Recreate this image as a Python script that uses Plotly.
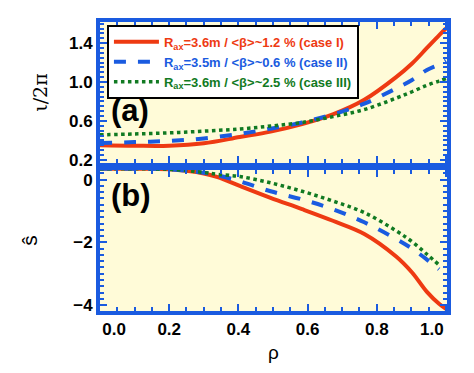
import plotly.graph_objects as go
from plotly.subplots import make_subplots

# ---------------- data ----------------
rho = [0.0, 0.1, 0.2, 0.3, 0.404, 0.493, 0.584, 0.673, 0.764, 0.856, 0.902, 0.945, 0.98, 1.0]

iota_case1 = [0.35, 0.345, 0.345, 0.37, 0.434, 0.49, 0.567, 0.667, 0.817, 1.05, 1.19, 1.35, 1.48, 1.55]
iota_case2 = [0.374, 0.382, 0.394, 0.42, 0.467, 0.52, 0.584, 0.667, 0.777, 0.934, 1.02, 1.124, 1.18, 1.22]
iota_case3 = [0.457, 0.466, 0.477, 0.495, 0.517, 0.547, 0.584, 0.644, 0.717, 0.834, 0.9, 0.967, 1.01, 1.036]

shat_rho = [0.0, 0.1, 0.2, 0.3, 0.34, 0.404, 0.493, 0.584, 0.673, 0.764, 0.856, 0.902, 0.945, 0.98, 1.0]
shat_case1 = [0.35, 0.35, 0.33, 0.2, 0.08, -0.2, -0.58, -0.94, -1.31, -1.73, -2.45, -2.96, -3.58, -3.96, -4.12]
shat_case2 = [0.35, 0.35, 0.33, 0.22, 0.14, -0.05, -0.37, -0.63, -0.94, -1.36, -1.89, -2.2, -2.55, -2.86, None]
shat_case3 = [0.35, 0.35, 0.33, 0.23, 0.17, 0.1, -0.1, -0.37, -0.68, -1.05, -1.63, -1.98, -2.38, -2.72, None]

names = [
    "R<sub>ax</sub>=3.6m / &lt;β&gt;~1.2 % (case I)",
    "R<sub>ax</sub>=3.5m / &lt;β&gt;~0.6 % (case II)",
    "R<sub>ax</sub>=3.6m / &lt;β&gt;~2.5 % (case III)",
]
colors = ["#EE3A12", "#1A5BE0", "#117A22"]
dashes = ["solid", "dash", "dot"]

x_ticks = [0.0, 0.2, 0.4, 0.6, 0.8, 1.0]
x_tick_text = ["\u2007\u2007\u20070.0", "0.2", "0.4", "0.6", "0.8", "1.0\u2007\u2007\u2007"]
iota_ticks = [0.2, 0.6, 1.0, 1.4]
shat_ticks = [0, -2, -4]

# ---------------- figure ----------------
fig = make_subplots(rows=2, cols=1, shared_xaxes=True, vertical_spacing=0.024)

iotas = [iota_case1, iota_case2, iota_case3]
shats = [shat_case1, shat_case2, shat_case3]
for i in range(3):
    fig.add_trace(go.Scatter(
        x=rho, y=iotas[i], mode="lines",
        name=f'<span style="color:{colors[i]}">{names[i]}</span>',
        line=dict(color=colors[i], width=4 if i < 2 else 3.5, dash=dashes[i], shape="spline"),
    ), row=1, col=1)
for i in range(3):
    fig.add_trace(go.Scatter(
        x=shat_rho, y=shats[i], mode="lines", showlegend=False,
        line=dict(color=colors[i], width=4 if i < 2 else 3.5, dash=dashes[i], shape="spline"),
    ), row=2, col=1)

blue = "#1A5BE0"
tickfont = dict(family="Liberation Sans, Arial, sans-serif", size=17, color="black", weight="bold")
common = dict(showline=True, linecolor=blue, linewidth=4, mirror="ticks",
              ticks="inside", tickcolor=blue, tickwidth=2, ticklen=7,
              showgrid=False, zeroline=False, tickfont=tickfont)

fig.update_xaxes(range=[0, 1.003], tickvals=x_ticks, ticktext=x_tick_text, ticklabeloverflow="allow",
                 minor=dict(dtick=0.05, tick0=0, ticks="inside", ticklen=4, tickcolor=blue, tickwidth=1.5, showgrid=False),
                 **common)
fig.update_xaxes(showticklabels=False, row=1, col=1)
fig.update_xaxes(title=dict(text="ρ", font=dict(family="Liberation Sans, Arial", size=19, color="black"), standoff=8),
                 row=2, col=1)

fig.update_yaxes(range=[0.167, 1.617], tickvals=iota_ticks, tickformat=".1f",
                 minor=dict(dtick=0.05, tick0=0.2, ticks="inside", ticklen=4, tickcolor=blue, tickwidth=1.5, showgrid=False),
                 title=dict(text="ι/2π", font=dict(family="DejaVu Serif, serif", size=19, color="black"), standoff=17),
                 row=1, col=1, **common)
fig.update_yaxes(range=[-4.19, 0.31], tickvals=shat_ticks,
                 minor=dict(dtick=0.2, tick0=0, ticks="inside", ticklen=4, tickcolor=blue, tickwidth=1.5, showgrid=False),
                 title=dict(text="ŝ", font=dict(family="Liberation Sans, Arial", size=21, color="black"), standoff=31),
                 row=2, col=1, **common)

fig.add_annotation(x=0.025, y=0.693, xref="paper", yref="paper", xanchor="left", yanchor="middle",
                   text="<b>(a)</b>", showarrow=False,
                   font=dict(family="Liberation Sans, Arial", size=31, color="black"))
fig.add_annotation(x=0.025, y=0.40, xref="paper", yref="paper", xanchor="left", yanchor="middle",
                   text="<b>(b)</b>", showarrow=False,
                   font=dict(family="Liberation Sans, Arial", size=31, color="black"))

fig.update_layout(
    width=474, height=373,
    margin=dict(l=92, r=20, t=10, b=70),
    paper_bgcolor="white",
    plot_bgcolor="#FFFBD8",
    legend=dict(x=0.02, y=0.99, xanchor="left", yanchor="top",
                bgcolor="white", bordercolor="black", borderwidth=2,
                font=dict(family="Liberation Sans, Arial", size=13, weight="bold"),
                itemwidth=45, tracegroupgap=0),
    showlegend=True,
)

fig.write_html("out.html")
